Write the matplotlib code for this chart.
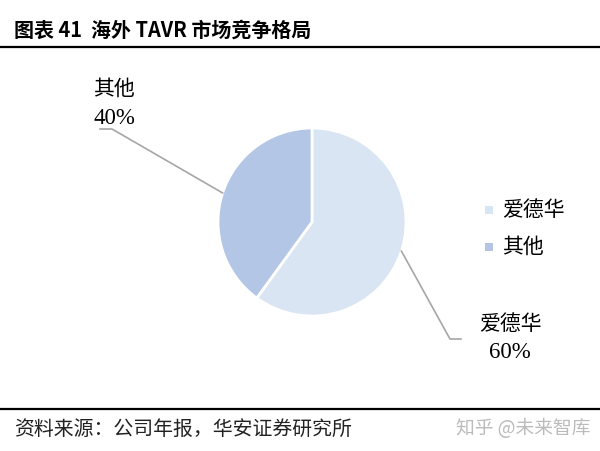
import numpy as np
import matplotlib
matplotlib.use('Agg')
import matplotlib.pyplot as plt
from matplotlib.lines import Line2D
from matplotlib.patches import Rectangle

plt.rcParams['font.family'] = ['Noto Sans CJK SC', 'DejaVu Sans']

# 数据
empresas = ['爱德华', '其他']
cuotas = [60, 40]
colores = ['#DAE5F3', '#B3C6E6']
titulo = '图表 41  海外 TAVR 市场竞争格局'
fuente = '资料来源：公司年报，华安证券研究所'
marca = '知乎 @未来智库'

W, H = 600, 452
fig = plt.figure(figsize=(6, 4.52), dpi=100)


def px(x, y):
    """coordenadas de pixel (origen arriba-izquierda) -> fracción de figura"""
    return x / W, 1 - y / H


# --- cabecera y pie ---
fig.text(*px(14, 30), titulo, fontsize=14.4, fontweight='bold', va='center', ha='left')
fig.add_artist(Line2D([0, 1], [1 - 48 / H] * 2, color='black', lw=1.6))
fig.add_artist(Line2D([0, 1], [1 - 410 / H] * 2, color='black', lw=1.6))
fig.text(*px(14, 429), fuente, fontsize=14.3, va='center', ha='left', color='#222222')
fig.text(*px(591, 429), marca, fontsize=13.5, va='center', ha='right', color='#BBBBBB')

# --- pastel ---
cx, cy, r = 312, 223, 94
lado = 200
ax = fig.add_axes([(cx - lado / 2) / W, 1 - (cy + lado / 2) / H, lado / W, lado / H])
lim = lado / 2 / r
ax.axis('off')
wedges, _ = ax.pie(cuotas, colors=colores, startangle=90, counterclock=False, radius=1,
                   wedgeprops=dict(edgecolor='white', linewidth=2))
ax.set_xlim(-lim, lim)
ax.set_ylim(-lim, lim)

# etiquetas con líneas guía
fam = ['Liberation Serif', 'Noto Sans CJK SC']
etiquetas = {
    '爱德华': dict(codo=(450, 340), fin=(461, 340), texto=(510, 325), ha='center'),
    '其他': dict(codo=(112, 130), fin=(100, 130), texto=(93, 90), ha='left'),
}
for w, nombre, valor in zip(wedges, empresas, cuotas):
    ang = np.deg2rad((w.theta1 + w.theta2) / 2)
    borde = (cx + r * np.cos(ang), cy - r * np.sin(ang))
    e = etiquetas[nombre]
    xs = [borde[0], e['codo'][0], e['fin'][0]]
    ys = [borde[1], e['codo'][1], e['fin'][1]]
    fig.add_artist(Line2D([x / W for x in xs], [1 - y / H for y in ys], color='#A6A6A6', lw=1.2))
    tx, ty = e['texto']
    fig.text(*px(tx, ty), nombre, fontsize=15, ha=e['ha'], va='center', family=fam)
    fig.text(*px(tx, ty + 28), f'{valor}%', fontsize=16.5, ha=e['ha'], va='center', family=fam)

# leyenda
for i, (nombre, color) in enumerate(zip(empresas, colores)):
    y = 211 + i * 37
    fig.add_artist(Rectangle(px(485, y + 4), 8 / W, 8 / H, transform=fig.transFigure,
                             facecolor=color, edgecolor='none'))
    fig.text(*px(502, y), nombre, fontsize=15, va='center', ha='left', family=fam)

fig.savefig('out.png', dpi=100)
